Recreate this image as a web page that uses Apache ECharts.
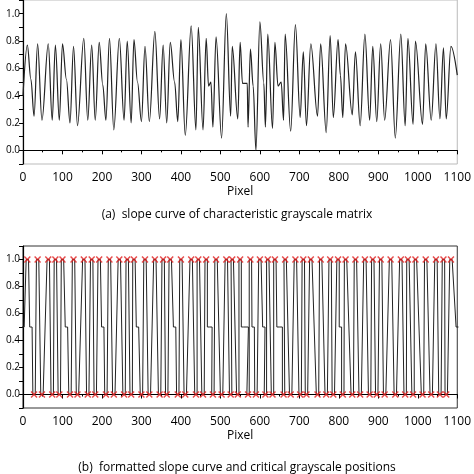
<!DOCTYPE html><html><head><meta charset="utf-8">
<script src="https://cdn.jsdelivr.net/npm/echarts@6/dist/echarts.min.js"></script>
<style>html,body{margin:0;padding:0;background:#fff}#c{width:474px;height:474px}</style></head><body><div id="c"></div>
<script>
// slope curve key points (x in pixels, y value)
const slopeX = [0,11,20,28,37,48,64,74,82,92,100,110,119,128,138,154,164,174,183,193,202,210,219,230,244,256,264,274,281,290,300,309,320,334,346,355,364,373,384,392,400,411,426,438,444,456,464,470,476,481,489,503,515,526,530,544,550,556,568,570,576,583,590,600,610,614,620,632,638,646,654,660,664,678,690,702,710,718,729,746,754,768,778,786,798,804,810,817,834,842,854,866,878,886,896,906,916,931,943,957,968,975,988,994,1012,1020,1034,1046,1056,1065,1072,1084,1100];
const slopeY = [0.40,0.77,0.52,0.25,0.78,0.22,0.78,0.22,0.77,0.22,0.78,0.52,0.20,0.76,0.18,0.82,0.22,0.77,0.22,0.79,0.48,0.22,0.82,0.15,0.82,0.22,0.80,0.20,0.81,0.50,0.21,0.76,0.21,0.87,0.23,0.77,0.20,0.79,0.50,0.21,0.81,0.11,0.91,0.15,0.90,0.15,0.82,0.47,0.50,0.17,0.83,0.09,1.00,0.25,0.76,0.23,0.79,0.49,0.49,0.17,0.74,0.47,0.00,0.94,0.49,0.17,0.85,0.16,0.79,0.47,0.50,0.22,0.85,0.14,0.92,0.24,0.72,0.18,0.78,0.25,0.78,0.13,0.84,0.24,0.81,0.55,0.24,0.78,0.26,0.72,0.18,0.85,0.22,0.76,0.21,0.78,0.22,0.81,0.09,0.85,0.18,0.82,0.19,0.80,0.19,0.78,0.22,0.78,0.23,0.75,0.23,0.76,0.55];
// formatted curve: plateau centres and levels
const levelX = slopeX;
const levelY = [0.5,1,0.5,0,1,0,1,0,1,0,1,0.5,0,1,0,1,0,1,0,1,0.5,0,1,0,1,0,1,0,1,0.5,0,1,0,1,0,1,0,1,0.5,0,1,0,1,0,1,0,1,0.5,0.5,0,1,0,1,0,1,0,1,0.5,0.5,0,1,0.5,0,1,0.5,0,1,0,1,0.5,0.5,0,1,0,1,0,1,0,1,0,1,0,1,0,1,0.5,0,1,0,1,0,1,0,1,0,1,0,1,0,1,0,1,0,1,0,1,0,1,0,1,0,1,0.5];
const xTicks = [0,100,200,300,400,500,600,700,800,900,1000,1100];
const yTicks = [0.0,0.2,0.4,0.6,0.8,1.0];

const slope = slopeX.map((x,i)=>[x,slopeY[i]]);
const sq = [], marks = [];
const hw = 3;
levelX.forEach((x,i)=>{
  const y = levelY[i];
  sq.push([x-hw,y]); sq.push([x+hw,y]);
  if (y===1 || y===0) marks.push([x,y]);
});
const cross = 'path://M0,1.5L1.5,0L5,3.5L8.5,0L10,1.5L6.5,5L10,8.5L8.5,10L5,6.5L1.5,10L0,8.5L3.5,5Z';
const font = 'Open Sans';
function xAxis(gi){return {type:'value',gridIndex:gi,min:0,max:1100,interval:100,
  axisLine:{lineStyle:{color:'#000',width:1.2}},axisTick:{inside:false,length:4,lineStyle:{color:'#000'}},
  minorTick:{show:true,splitNumber:2,length:2,lineStyle:{color:'#000'}},
  axisLabel:{color:'#000',fontSize:12,fontFamily:font,showMaxLabel:true,formatter:v=>xTicks.includes(v)?String(v):''},
  splitLine:{show:false},name:'Pixel',nameLocation:'middle',nameGap:22,nameTextStyle:{color:'#000',fontSize:12,fontFamily:font}};}
function yAxis(gi){return {type:'value',gridIndex:gi,min:-0.1,max:1.1,interval:0.1,
  axisLine:{show:true,lineStyle:{color:'#000',width:1.2}},axisTick:{length:4,lineStyle:{color:'#000'}},
  axisLabel:{color:'#000',fontSize:10,fontFamily:font,margin:3,
    formatter:v=>{const r=Math.round(v*10)/10;return yTicks.some(t=>Math.abs(t-r)<1e-6)?r.toFixed(1):'';}},
  splitLine:{show:false}};}
const chart = echarts.init(document.getElementById('c'));
chart.setOption({
  animation:false,
  grid:[{left:23,top:0,width:451,height:164,show:true,borderColor:'#bbb',borderWidth:1},
        {left:23,top:246,width:451,height:162,show:true,borderColor:'#333',borderWidth:1}],
  xAxis:[xAxis(0),xAxis(1)], yAxis:[yAxis(0),yAxis(1)],
  title:[{text:'(a)  slope curve of characteristic grayscale matrix',left:'center',top:204,textStyle:{fontSize:12,fontWeight:'normal',color:'#000',fontFamily:font}},
         {text:'(b)  formatted slope curve and critical grayscale positions',left:'center',top:457,textStyle:{fontSize:12,fontWeight:'normal',color:'#000',fontFamily:font}}],
  series:[
    {type:'line',xAxisIndex:0,yAxisIndex:0,data:slope,smooth:0.35,smoothMonotone:'x',symbol:'none',lineStyle:{color:'#222',width:1.2}},
    {type:'line',xAxisIndex:1,yAxisIndex:1,data:sq,symbol:'none',lineStyle:{color:'#222',width:1}},
    {type:'scatter',xAxisIndex:1,yAxisIndex:1,data:marks,symbol:cross,symbolSize:7,itemStyle:{color:'#e02020'},z:5}
  ]
});
</script></body></html>
